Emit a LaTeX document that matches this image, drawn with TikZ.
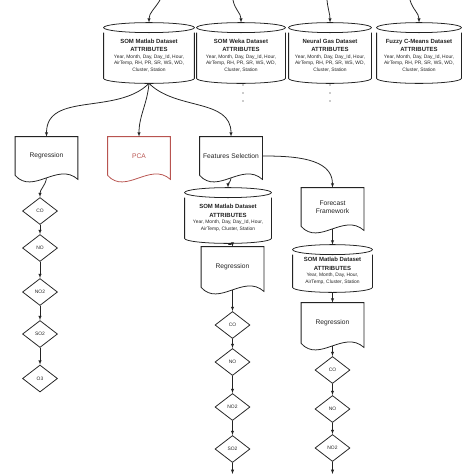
\documentclass[tikz,border=0pt]{standalone}
\usepackage{fontspec}
\setmainfont{Liberation Sans}
\usetikzlibrary{shapes.geometric}
\usetikzlibrary{arrows}
\usetikzlibrary{calc}
\definecolor{ink}{RGB}{35,35,35}
\definecolor{pcared}{RGB}{184,84,80}

\begin{document}
\begin{tikzpicture}[x=0.05cm,y=0.05cm,>=latex,line width=1.1pt,
  cyl/.style={inner sep=0pt,align=center,text=ink,font=\fontsize{7}{9.2}\selectfont},
  doc/.style={inner sep=0pt,align=center,text=ink,minimum width=3.1cm,font=\fontsize{9.5}{11.5}\selectfont},
  gas/.style={diamond,draw=ink,inner sep=0pt,minimum width=1.75cm,minimum height=1.35cm,text=ink,font=\fontsize{7}{8}\selectfont},
  link/.style={->,draw=ink}]
  \useasboundingbox (0,0) rectangle (474,-474);

  % datasets
  \node[cyl,minimum width=4.5cm,minimum height=2.25cm] (c1) at (149,-55.5)
    {\textbf{\fontsize{8.5}{10}\selectfont SOM Matlab Dataset}\\[3pt] \textbf{\fontsize{8.5}{10}\selectfont ATTRIBUTES}\\ Year, Month, Day, Day\_Id, Hour,\\ AirTemp, RH, PR, SR, WS, WD,\\ Cluster, Station};
  \node[cyl,minimum width=4.4cm,minimum height=2.25cm] (c2) at (241,-55.5)
    {\textbf{\fontsize{8.5}{10}\selectfont SOM Weka Dataset}\\[3pt] \textbf{\fontsize{8.5}{10}\selectfont ATTRIBUTES}\\ Year, Month, Day, Day\_Id, Hour,\\ AirTemp, RH, PR, SR, WS, WD,\\ Cluster, Station};
  \node[cyl,minimum width=4.1cm,minimum height=2.25cm] (c3) at (330,-55.5)
    {\textbf{\fontsize{8.5}{10}\selectfont Neural Gas Dataset}\\[3pt] \textbf{\fontsize{8.5}{10}\selectfont ATTRIBUTES}\\ Year, Month, Day, Day\_Id, Hour,\\ AirTemp, RH, PR, SR, WS, WD,\\ Cluster, Station};
  \node[cyl,minimum width=4.2cm,minimum height=2.25cm] (c4) at (419,-55.5)
    {\textbf{\fontsize{8.5}{10}\selectfont Fuzzy C-Means Dataset}\\[3pt] \textbf{\fontsize{8.5}{10}\selectfont ATTRIBUTES}\\ Year, Month, Day, Day\_Id, Hour,\\ AirTemp, RH, PR, SR, WS, WD,\\ Cluster, Station};
  \node[cyl,minimum width=4.3cm,minimum height=2cm] (m) at (228,-218)
    {\textbf{\fontsize{8.5}{10}\selectfont SOM Matlab Dataset}\\[3pt] \textbf{\fontsize{8.5}{10}\selectfont ATTRIBUTES}\\ Year, Month, Day, Day\_Id, Hour,\\ AirTemp, Cluster, Station};
  \node[cyl,minimum width=3.95cm,minimum height=1.6cm] (r) at (332.5,-271)
    {\textbf{\fontsize{8.5}{10}\selectfont SOM Matlab Dataset}\\[3pt] \textbf{\fontsize{8.5}{10}\selectfont ATTRIBUTES}\\ Year, Month, Day, Hour,\\ AirTemp, Cluster, Station};

  \foreach \k in {c1,c2,c3,c4,m,r} {
    \draw[ink] let \p1=($(\k.east)-(\k.west)$) in
      (\k.north west) -- (\k.south west)
      arc[start angle=180,end angle=360,x radius=0.5*\x1,y radius=0.25cm] -- (\k.north east)
      ([yshift=0.25cm]\k.north) ellipse[x radius=0.5*\x1,y radius=0.25cm];
    \coordinate (\k-in) at ([yshift=0.5cm]\k.north);
    \coordinate (\k-out) at ([yshift=-0.25cm]\k.south);
  }

  % documents
  \node[doc,minimum height=1.9cm] (d1) at (46.5,-156) {Regression};
  \node[doc,minimum height=1.9cm,text=pcared] (d2) at (139,-156) {PCA};
  \node[doc,minimum height=1.9cm] (d3) at (231,-156) {Features Selection};
  \node[doc,minimum height=1.9cm] (d4) at (332.5,-207) {Forecast\\Framework};
  \node[doc,minimum height=2cm] (d5) at (232.5,-267) {Regression};
  \node[doc,minimum height=2cm] (d6) at (332.5,-323) {Regression};

  \foreach \k/\c in {d1/ink,d2/pcared,d3/ink,d4/ink,d5/ink,d6/ink} {
    \draw[\c] (\k.south west) -- (\k.north west) -- (\k.north east) -- ([yshift=-0.2cm]\k.south east)
      .. controls +(-1cm,0.9cm) and +(0.9cm,-1cm) .. (\k.south west);
    \coordinate (\k-out) at ([yshift=-0.15cm]\k.south);
  }

  % pollutants
  \foreach \g/\y in {CO/211,NO/248,NO2/292,SO2/334,O3/378.5}
    \node[gas] (l\g) at (40,-\y) {\g};
  \foreach \g/\y in {CO/325,NO/362,NO2/407,SO2/449}
    \node[gas] (m\g) at (232.5,-\y) {\g};
  \foreach \g/\y in {CO/370,NO/409,NO2/448}
    \node[gas] (r\g) at (332.5,-\y) {\g};

  \coordinate (t1) at (160,0);
  \coordinate (t2) at (233,0);
  \coordinate (t3) at (327,0);
  \coordinate (t4) at (410,0);
  \coordinate (mend) at (232.5,-474);
  \coordinate (rend) at (332.5,-474);

  % more datasets
  \foreach \x in {243,330}
    \foreach \y in {85,93,101}
      \fill[ink] (\x,-\y) circle[radius=0.7];

  \draw[link] (t1) to[out=-120,in=90] (c1-in);
  \draw[link] (t2) to[out=-80,in=90] (c2-in);
  \draw[link] (t3) to[out=-85,in=90] (c3-in);
  \draw[link] (t4) to[out=-75,in=90] (c4-in);

  \draw[link] (c1-out) to[out=-135,in=90] (d1.north);
  \draw[link] (c1-out) to[out=-95,in=90] (d2.north);
  \draw[link] (c1-out) to[out=-45,in=90] (d3.north);

  \draw[link] (d1-out) to[out=-100,in=90] (lCO);
  \draw[link] (d3-out) to[out=-100,in=90] (m-in);
  \draw[link] (d3.east) to[out=0,in=90] (d4.north);
  \draw[link] (m-out) to[out=-80,in=90] (d5.north);
  \draw[link] (d5-out) -- (mCO);
  \draw[link] (d4-out) -- (r-in);
  \draw[link] (r-out) -- (d6.north);
  \draw[link] (d6-out) -- (rCO);

  \foreach \a/\b in {lCO/lNO,lNO/lNO2,lNO2/lSO2,lSO2/lO3,mCO/mNO,mNO/mNO2,mNO2/mSO2,rCO/rNO,rNO/rNO2}
    \draw[link] (\a) -- (\b);
  \draw[link] (mSO2) -- (mend);
  \draw[link] (rNO2) -- (rend);
\end{tikzpicture}
\end{document}
